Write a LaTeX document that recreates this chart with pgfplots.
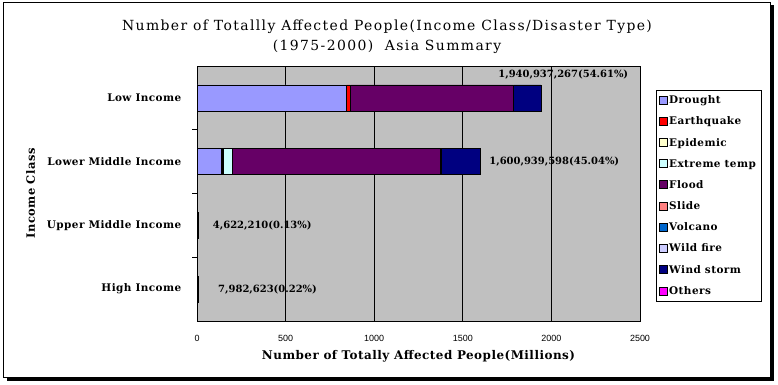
\documentclass[border=0pt]{standalone}
\usepackage{pgfplots}
\pgfplotsset{compat=1.18}
\usepackage{pgfplotstable}
\usepackage{fontspec}
\setmainfont{DejaVu Serif}
\newfontfamily\tickfont{Liberation Sans}
\newfontfamily\widefont[LetterSpace=10]{DejaVu Serif}
\newfontfamily\semiwide[LetterSpace=4]{DejaVu Serif}
\definecolor{cDrought}{HTML}{9999FF}
\definecolor{cEarth}{HTML}{FF0000}
\definecolor{cEpid}{HTML}{FFFFCC}
\definecolor{cExt}{HTML}{CCFFFF}
\definecolor{cFlood}{HTML}{660066}
\definecolor{cSlide}{HTML}{FF8080}
\definecolor{cVolc}{HTML}{0066CC}
\definecolor{cWild}{HTML}{CCCCFF}
\definecolor{cWind}{HTML}{000080}
\definecolor{cOther}{HTML}{FF00FF}
\definecolor{plotbg}{HTML}{C0C0C0}
% values in millions
\pgfplotstableread{
cat Drought Earthquake Epidemic Extreme Flood Slide Volcano Wildfire Windstorm Others
0   845     18         1        2       920   1     0.5     0        153       0.5
1   138     7          1        53      1175  1     1       0        225       0
2   0.8     0.2        0.1      0.3     2.6   0.1   0       0        0.5       0
3   1.2     0.8        0.2      0.4     4.5   0.2   0       0        0.7       0
}\datatable
\begin{document}
\begin{tikzpicture}[x=1bp,y=1bp]
\useasboundingbox (0,0) rectangle (778,384);
% outer frame with shadow
\fill[black] (7,3) rectangle (774,379);
\fill[white, draw=black, line width=0.8bp] (3,7) rectangle (770,382);
% titles
\node[font=\widefont\fontsize{14}{16}\selectfont] at (387,357) {Number of Totallly Affected People(Income Class/Disaster Type)};
\node[font=\widefont\fontsize{14}{16}\selectfont] at (387,337) {(1975-2000)\ \ Asia Summary};
\begin{axis}[
  at={(197bp,63bp)}, anchor=south west,
  width=443bp, height=255bp, scale only axis,
  xbar stacked, bar width=26bp,
  y dir=reverse,
  xmin=0, xmax=2500, ymin=-0.5, ymax=3.5,
  xtick={0,500,...,2500},
  ytick={0,1,2,3},
  yticklabels={Low Income,Lower Middle Income,Upper Middle Income,High Income},
  yticklabel style={font=\semiwide\fontsize{10.5}{12}\selectfont\bfseries, xshift=-8bp},
  xticklabel style={font=\tickfont\fontsize{9}{10}\selectfont, yshift=-6bp},
  /pgf/number format/assume math mode=true,
  /pgf/number format/1000 sep={},
  major y tick style={draw=none},
  minor ytick={0.5,1.5,2.5},
  minor y tick style={black, line width=0.6bp},
  minor tick length=5bp,
  major x tick style={draw=none},
  xmajorgrids, grid style={black, line width=0.8bp},
  axis background/.style={fill=plotbg},
  axis line style={black, line width=0.8bp},
  tick align=outside,
  xtick pos=bottom, ytick pos=left,
  xlabel={Number of Totally Affected People(Millions)},
  ylabel={Income Class},
  xlabel style={font=\semiwide\fontsize{12}{14}\selectfont\bfseries, yshift=-2bp},
  ylabel style={font=\semiwide\fontsize{11.5}{13}\selectfont\bfseries, yshift=5bp},
  legend style={at={(1.035,0.904)}, anchor=north west, draw=black, fill=white,
    font=\semiwide\fontsize{10.5}{12}\selectfont\bfseries, row sep=7.8bp, inner sep=3bp,
    line width=0.6bp},
  legend cell align=left,
  legend image code/.code={\draw[#1, draw=black, line width=0.4bp] (0bp,-3.5bp) rectangle (8bp,4.5bp);},
  clip=false,
]
\addplot[fill=cDrought, draw=black, line width=0.6bp] table[x=Drought, y=cat]{\datatable};
\addplot[fill=cEarth, draw=black, line width=0.6bp] table[x=Earthquake, y=cat]{\datatable};
\addplot[fill=cEpid, draw=black, line width=0.6bp] table[x=Epidemic, y=cat]{\datatable};
\addplot[fill=cExt, draw=black, line width=0.6bp] table[x=Extreme, y=cat]{\datatable};
\addplot[fill=cFlood, draw=black, line width=0.6bp] table[x=Flood, y=cat]{\datatable};
\addplot[fill=cSlide, draw=black, line width=0.6bp] table[x=Slide, y=cat]{\datatable};
\addplot[fill=cVolc, draw=black, line width=0.6bp] table[x=Volcano, y=cat]{\datatable};
\addplot[fill=cWild, draw=black, line width=0.6bp] table[x=Wildfire, y=cat]{\datatable};
\addplot[fill=cWind, draw=black, line width=0.6bp] table[x=Windstorm, y=cat]{\datatable};
\addplot[fill=cOther, draw=black, line width=0.6bp] table[x=Others, y=cat]{\datatable};
\legend{Drought,Earthquake,Epidemic,Extreme temp,Flood,Slide,Volcano,Wild fire,Wind storm,Others}
\node[font=\fontsize{10}{12}\selectfont\bfseries] at (axis cs:2067,-0.36) {1,940,937,267(54.61\%)};
\node[font=\fontsize{10}{12}\selectfont\bfseries, anchor=west] at (axis cs:1630,1) {1,600,939,598(45.04\%)};
\node[font=\fontsize{10}{12}\selectfont\bfseries, anchor=west] at (axis cs:70,2) {4,622,210(0.13\%)};
\node[font=\fontsize{10}{12}\selectfont\bfseries, anchor=west] at (axis cs:100,3) {7,982,623(0.22\%)};
\end{axis}
\end{tikzpicture}
\end{document}
